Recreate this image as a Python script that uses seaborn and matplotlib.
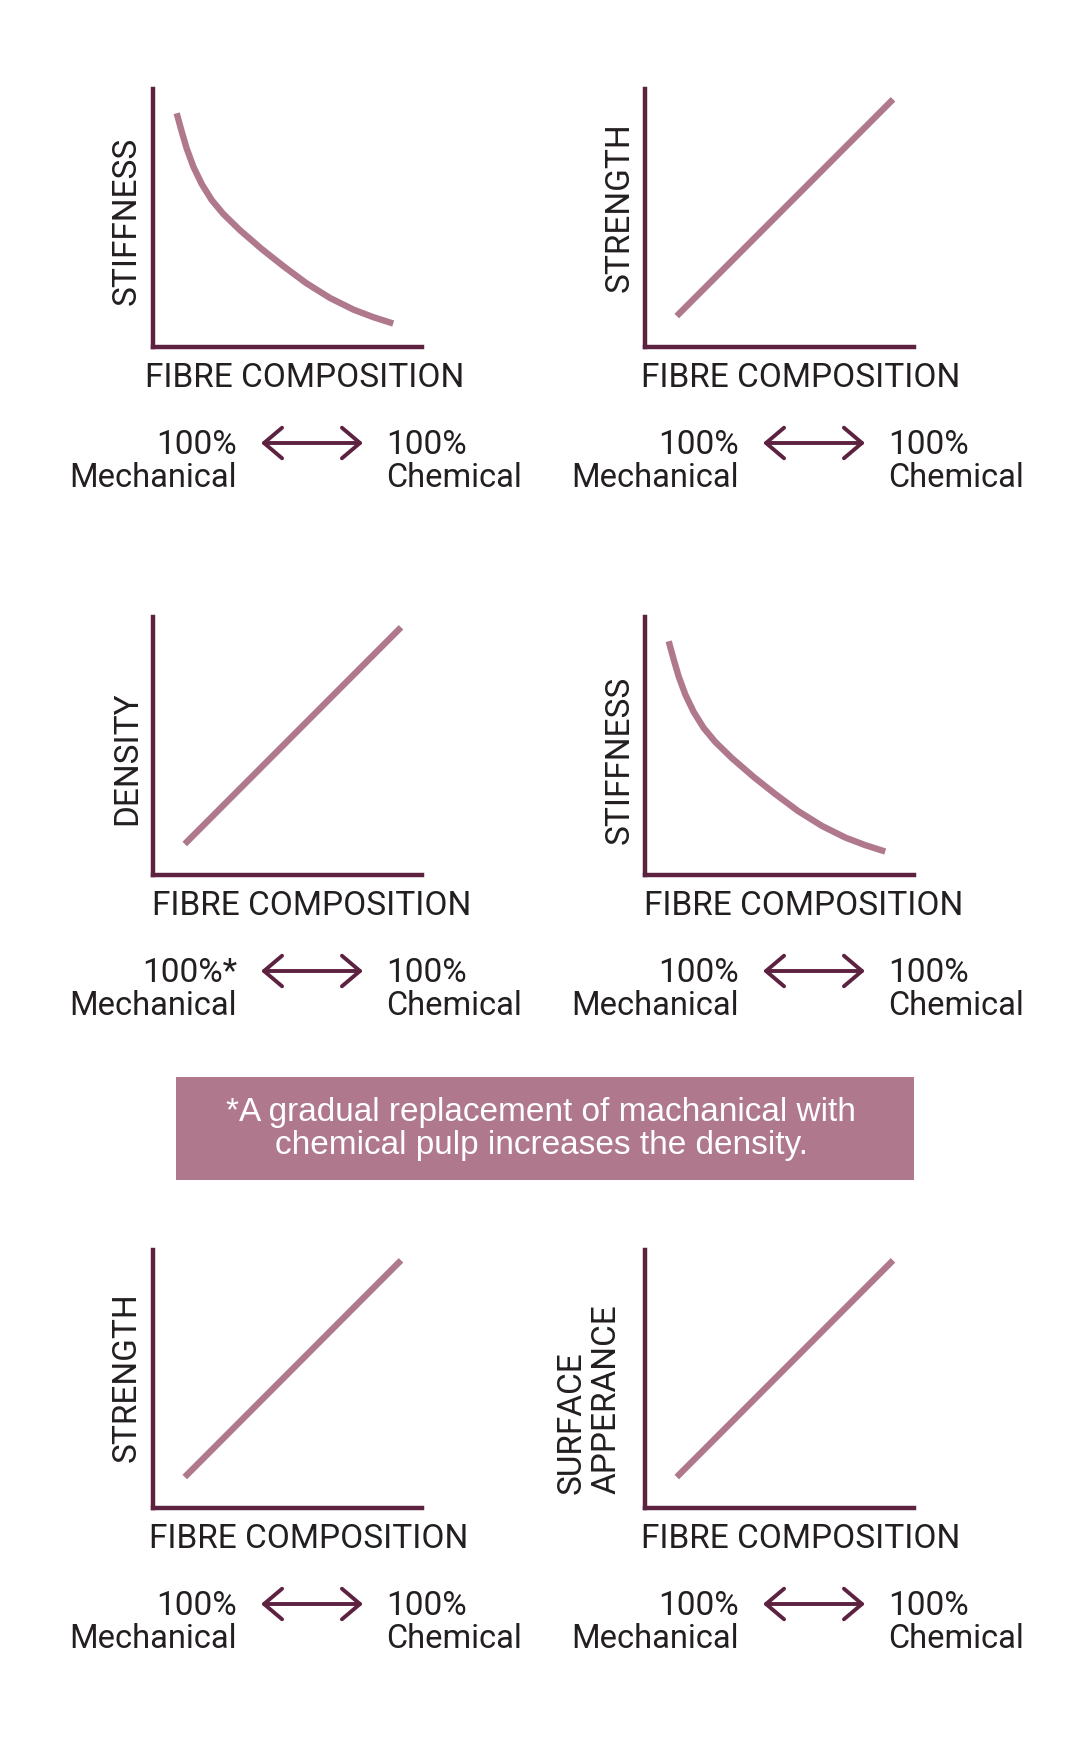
import matplotlib.pyplot as plt
import seaborn as sns
from matplotlib.patches import Rectangle, FancyArrowPatch

# -------------------------------
# Data (axis units 0-100)
# -------------------------------
curve_x = [8.8, 10.7, 12.5, 15.0, 18.1, 21.8, 26.1, 32.3, 40.4, 48.4,
           56.9, 65.8, 74.5, 81.8, 89.3]
curve_y = [90.6, 83.4, 77.0, 69.9, 63.2, 57.0, 51.6, 45.3, 38.0, 31.4,
           24.8, 19.0, 14.5, 11.6, 9.1]
line_x = [11.8, 92.2]
line_y = [12.0, 96.0]

y_labels = ["STIFFNESS", "STRENGTH", "DENSITY", "STIFFNESS", "STRENGTH", "SURFACE\nAPPERANCE"]
kinds = ["curve", "line", "line", "curve", "line", "line"]
left_pct = ["100%", "100%", "100%*", "100%", "100%", "100%"]
x_label = "FIBRE COMPOSITION"
left_name = "Mechanical"
right_pct = "100%"
right_name = "Chemical"
note = "*A gradual replacement of machanical with\nchemical pulp increases the density."

# -------------------------------
# Layout (pixels of the 1080x1747 image)
# -------------------------------
W, H = 1080, 1747
col_left = [153, 645]
text_base = [153, 655]
row_bottom = [347, 875, 1508]
ax_w, ax_h = 269, 258
ylab_pos = [(127, 221), (620, 207), (127, 758), (620, 760), (127, 1377), (589, 1399)]
xlab_left = [145, 641, 152, 644, 149, 641]

CURVE = "#AF788D"
DARK = "#5C2240"
INK = "#231F20"


def fx(x):
    return x / W


def fy(y):
    return 1 - y / H


sns.set_theme(style="white")
plt.rcParams["font.family"] = ["Roboto", "DejaVu Sans"]

fig = plt.figure(figsize=(W / 100, H / 100), dpi=100)
fig.patch.set_facecolor("white")

for i in range(6):
    r, c = divmod(i, 2)
    left = col_left[c]
    bottom = row_bottom[r]
    ax = fig.add_axes([fx(left), fy(bottom), ax_w / W, ax_h / H])
    ax.set_facecolor("none")
    if kinds[i] == "curve":
        sns.lineplot(x=curve_x, y=curve_y, ax=ax, color=CURVE, lw=4.6, sort=False)
    else:
        sns.lineplot(x=line_x, y=line_y, ax=ax, color=CURVE, lw=4.6)
    for ln in ax.lines:
        ln.set_solid_capstyle("butt")
        ln.set_solid_joinstyle("round")
        ln.set_clip_on(False)
    ax.set_xlim(0, 100)
    ax.set_ylim(0, 100)
    ax.set_xticks([])
    ax.set_yticks([])
    for s in ["top", "right"]:
        ax.spines[s].set_visible(False)
    for s in ["left", "bottom"]:
        ax.spines[s].set_color(DARK)
        ax.spines[s].set_linewidth(3.2)

    # y label
    yx, yy = ylab_pos[i]
    fig.text(fx(yx), fy(yy), y_labels[i], rotation=90, ha="center", va="center",
             multialignment="left", fontsize=24, color=INK, linespacing=1.1)
    # x label
    fig.text(fx(xlab_left[i]), fy(bottom + 40), x_label, ha="left", va="baseline",
             fontsize=24, color=INK)

    # composition scale
    tb = text_base[c]
    fig.text(fx(tb + 84), fy(bottom + 107), left_pct[i], ha="right", va="baseline",
             fontsize=24, color=INK)
    fig.text(fx(tb + 84), fy(bottom + 140), left_name, ha="right", va="baseline",
             fontsize=23.5, color=INK)
    fig.text(fx(tb + 233), fy(bottom + 107), right_pct, ha="left", va="baseline",
             fontsize=24, color=INK)
    fig.text(fx(tb + 233), fy(bottom + 140), right_name, ha="left", va="baseline",
             fontsize=23.5, color=INK)
    arrow = FancyArrowPatch((fx(tb + 108), fy(bottom + 96)), (fx(tb + 210), fy(bottom + 96)),
                            transform=fig.transFigure,
                            arrowstyle="<->,head_length=0.65,head_width=0.55",
                            mutation_scale=20, color=DARK, lw=2.8,
                            shrinkA=0, shrinkB=0)
    fig.add_artist(arrow)

# note box
box = Rectangle((fx(176), fy(1180)), (914 - 176) / W, (1180 - 1077) / H,
                transform=fig.transFigure, facecolor=CURVE, edgecolor="none")
fig.add_artist(box)
fig.text(fx(541), fy(1129), note, ha="center", va="center", fontsize=24,
         color="white", linespacing=1.05, family=["Liberation Sans", "DejaVu Sans"])

plt.savefig("out.png", dpi=100)
plt.close()
